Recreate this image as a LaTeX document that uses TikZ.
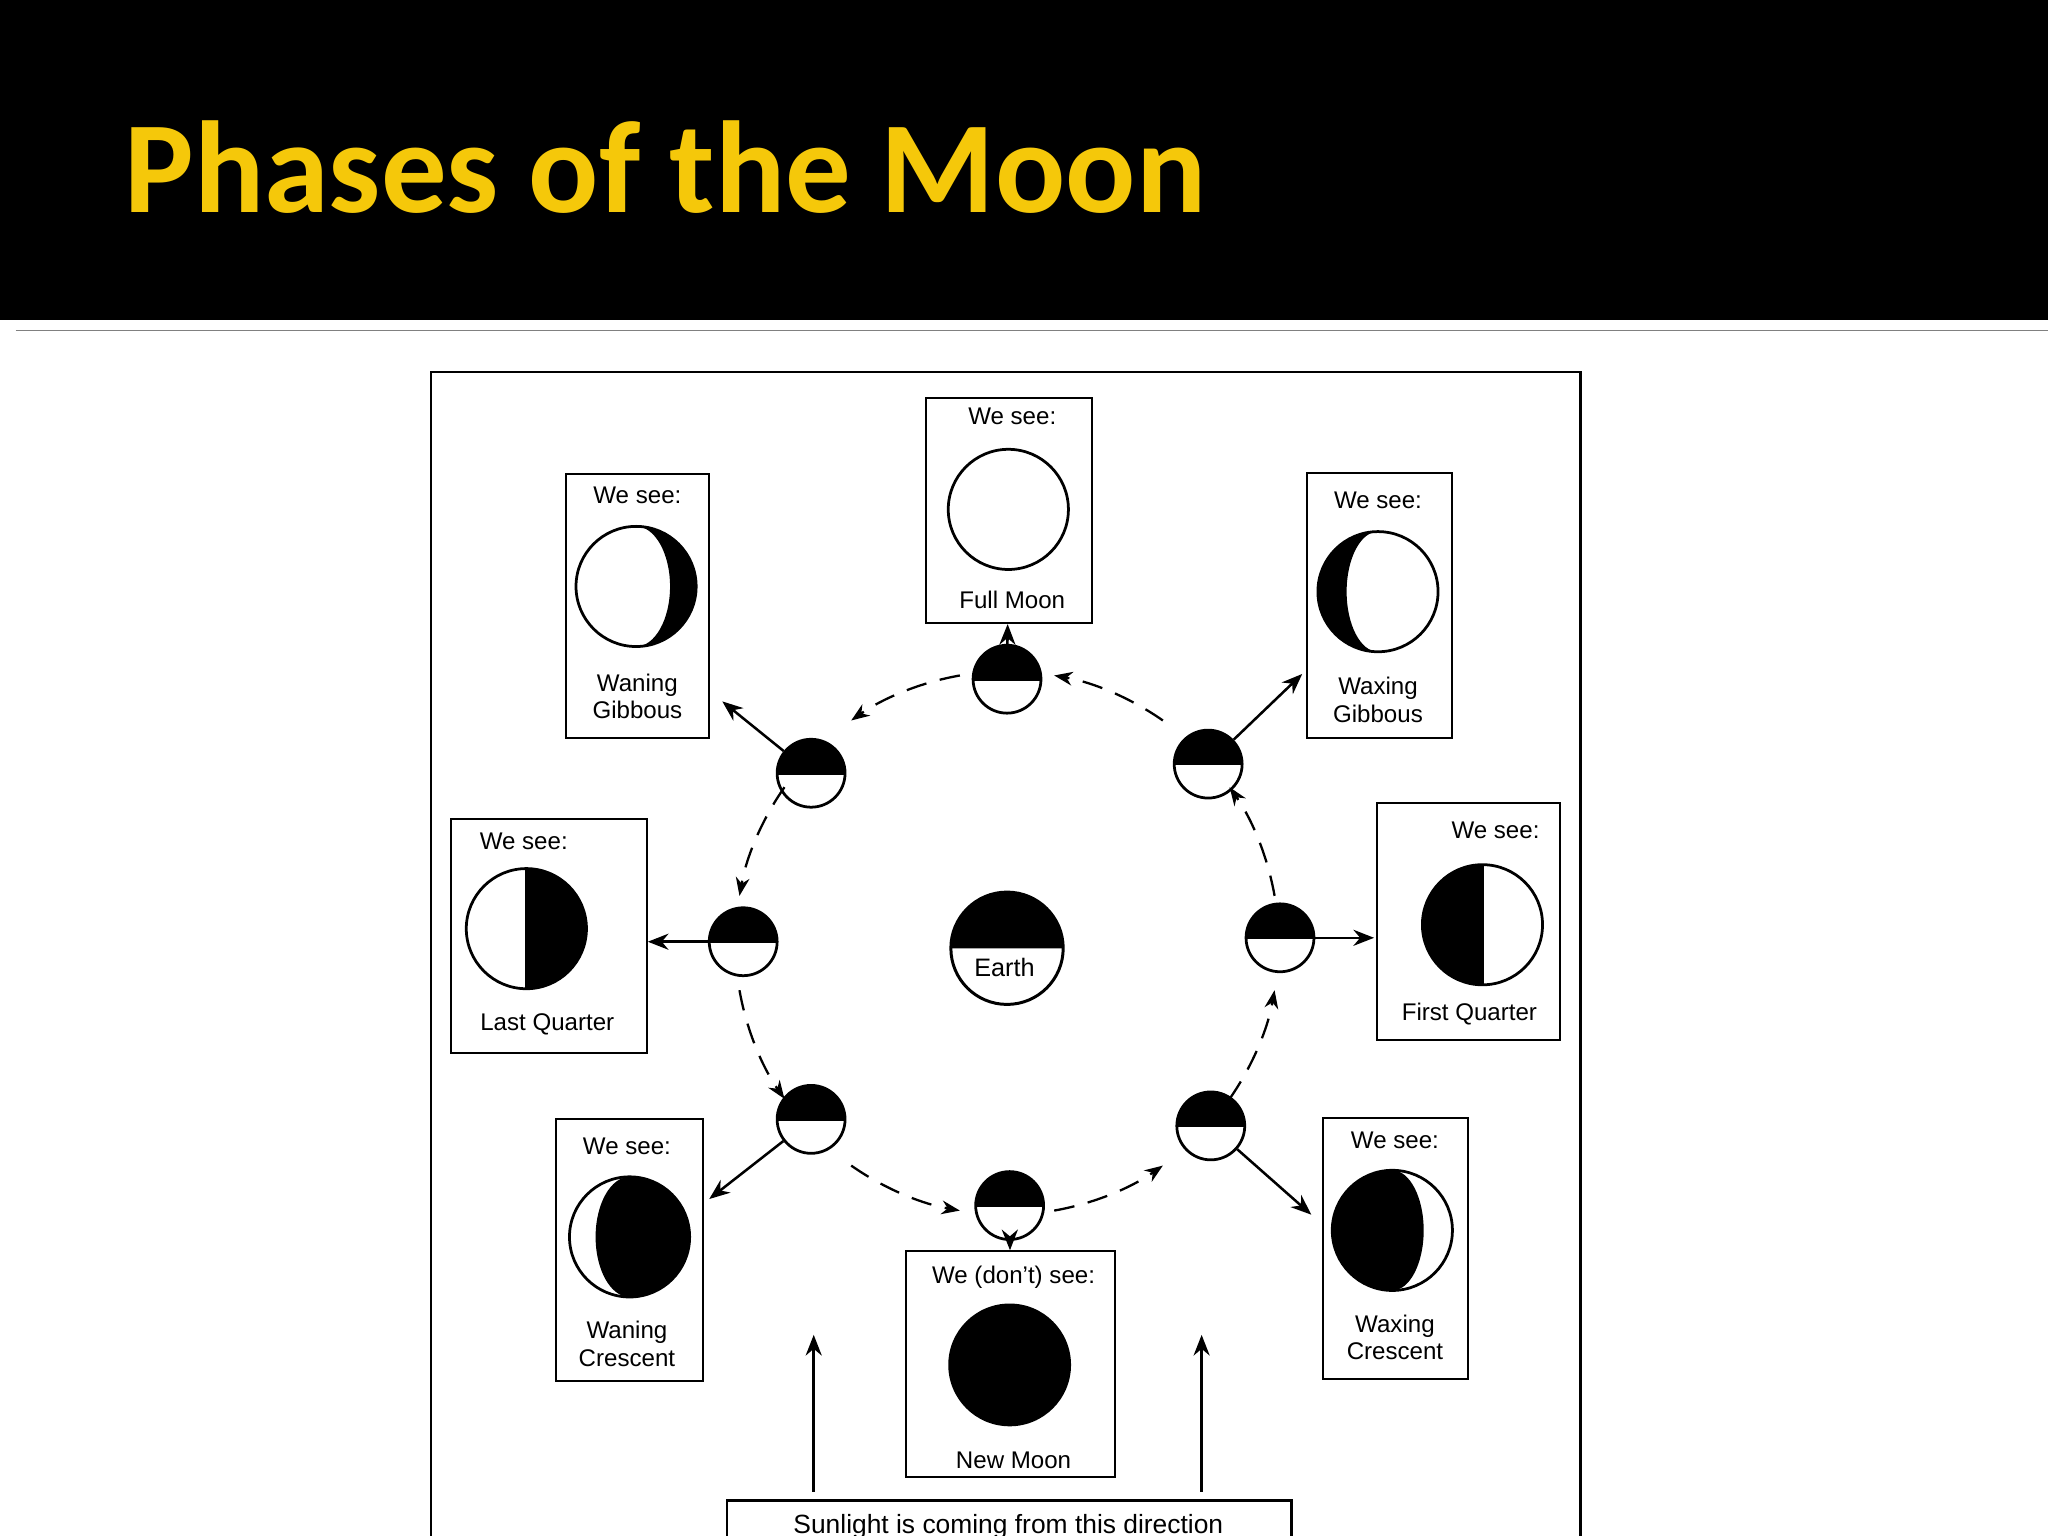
\documentclass[tikz,border=0pt]{standalone}
\usepackage{fontspec}
\setmainfont{Liberation Sans}
\newfontfamily\titlefont{Carlito}
\usetikzlibrary{arrows.meta}
\definecolor{titleyellow}{RGB}{245,200,10}
\begin{document}
\begin{tikzpicture}[x=0.02cm,y=-0.02cm,
  lbl/.style={font=\fontsize{10.5}{12}\selectfont,align=center,inner sep=0pt},
  panel/.style={draw,line width=0.9pt},
  phase/.style={draw,line width=1.2pt,fill=white},
  outarrow/.style={line width=1.1pt,-{Stealth[length=9pt,width=7pt]}},
  orbitarrow/.style={line width=1pt,dash pattern=on 9pt off 6pt,-{Stealth[length=8pt,width=6pt]}}]
\useasboundingbox (0,0) rectangle (1568,1176);
\fill[black] (0,0) rectangle (1568,245);
\draw[gray,line width=0.6pt] (12,253) -- (1568,253);
\node[anchor=base west,inner sep=0pt,text=titleyellow,font=\titlefont\bfseries\fontsize{57}{60}\selectfont] (title) at (95,163) {Phases of the Moon};
% frame
\draw[line width=1pt] (330,1176) -- (330,285) -- (1210,285) -- (1210,1176);
% sunlight
\node[panel,minimum width=432*0.02cm,minimum height=40*0.02cm,anchor=north west,inner sep=0pt] (sun) at (556,1148) {};
\node[lbl,anchor=base,font=\fontsize{11.5}{13}\selectfont] (suntext) at (772,1174) {Sunlight is coming from this direction};
\coordinate (s1) at (623,1142); \coordinate (s1e) at (623,1022);
\coordinate (s2) at (920,1142); \coordinate (s2e) at (920,1022);
\draw[outarrow] (s1) -- (s1e);
\draw[outarrow] (s2) -- (s2e);
% orbit
\coordinate (o) at (771,722);
\foreach \k in {0,...,7}{
  \pgfmathsetmacro\a{\k*45}
  \draw[orbitarrow] (o) ++(\a-10:208) arc[start angle=\a-10,end angle=\a-35,radius=208];
}
% orbit moons
\foreach \k/\x/\y in {0/980/718,1/927/862,2/773/923,3/621/857,4/569/721,5/621/592,6/771/520,7/925/585}{
  \node[circle,draw,line width=1.2pt,minimum size=52*0.02cm,inner sep=0pt] (m\k) at (\x,\y) {};
  \fill (\x-26,\y) arc[start angle=180,end angle=360,radius=26] -- cycle;
  \draw[line width=1.2pt] (\x-26,\y) -- (\x+26,\y);
}
% earth
\node[circle,draw,line width=1.3pt,minimum size=86*0.02cm,inner sep=0pt] (earth) at (771,726) {};
\fill (728,726) arc[start angle=180,end angle=360,radius=43] -- cycle;
\node[lbl,font=\fontsize{11}{13}\selectfont] (earthlbl) at (769,741) {Earth};
% panels
\node[panel,minimum width=127*0.02cm,minimum height=172*0.02cm,inner sep=0pt] (pFull) at (772.5,391) {};
\node[panel,minimum width=110*0.02cm,minimum height=202*0.02cm,inner sep=0pt] (pWnG) at (488,464) {};
\node[panel,minimum width=111*0.02cm,minimum height=203*0.02cm,inner sep=0pt] (pWxG) at (1056.5,463.5) {};
\node[panel,minimum width=140*0.02cm,minimum height=181*0.02cm,inner sep=0pt] (pFQ) at (1124,705.5) {};
\node[panel,minimum width=150*0.02cm,minimum height=179*0.02cm,inner sep=0pt] (pLQ) at (420,716.5) {};
\node[panel,minimum width=112*0.02cm,minimum height=200*0.02cm,inner sep=0pt] (pWnC) at (482,957) {};
\node[panel,minimum width=111*0.02cm,minimum height=200*0.02cm,inner sep=0pt] (pWxC) at (1068.5,956) {};
\node[panel,minimum width=160*0.02cm,minimum height=173*0.02cm,inner sep=0pt] (pNew) at (774,1044.5) {};
% labels
\node[lbl] (t1) at (775,319) {We see:};
\node[lbl] (t1b) at (775,459) {Full Moon};
\node[lbl] (t2) at (488,379) {We see:};
\node[lbl] (t2b) at (488,533) {Waning\\Gibbous};
\node[lbl] (t3) at (1055,383) {We see:};
\node[lbl] (t3b) at (1055,536) {Waxing\\Gibbous};
\node[lbl] (t4) at (1145,636) {We see:};
\node[lbl] (t4b) at (1125,776) {First Quarter};
\node[lbl] (t5) at (401,644) {We see:};
\node[lbl] (t5b) at (419,784) {Last Quarter};
\node[lbl] (t6) at (480,878) {We see:};
\node[lbl] (t6b) at (480,1029) {Waning\\Crescent};
\node[lbl] (t7) at (1068,873) {We see:};
\node[lbl] (t7b) at (1068,1024) {Waxing\\Crescent};
\node[lbl] (t8) at (776,978) {We (don't) see:};
\node[lbl] (t8b) at (776,1118) {New Moon};
% phase images
\def\r{46}
\draw[phase] (772,390) circle[radius=\r];
\draw[phase] (487,449) circle[radius=\r];
\fill (487,449-\r) arc[start angle=-90,end angle=90,radius=\r] arc[start angle=90,end angle=-90,x radius=26,y radius=\r] -- cycle;
\draw[phase] (1055,453) circle[radius=\r];
\fill (1055,453-\r) arc[start angle=-90,end angle=-270,radius=\r] arc[start angle=-270,end angle=-90,x radius=24,y radius=\r] -- cycle;
\draw[phase] (1135,708) circle[radius=\r];
\fill (1135,708-\r) arc[start angle=-90,end angle=-270,radius=\r] -- cycle;
\draw[line width=1.2pt] (1135,708-\r) -- (1135,708+\r);
\draw[phase] (403,711) circle[radius=\r];
\fill (403,711-\r) arc[start angle=-90,end angle=90,radius=\r] -- cycle;
\draw[line width=1.2pt] (403,711-\r) -- (403,711+\r);
\draw[phase] (482,947) circle[radius=\r];
\fill (482,947-\r) arc[start angle=-90,end angle=90,radius=\r] arc[start angle=90,end angle=270,x radius=26,y radius=\r] -- cycle;
\draw[phase] (1066,942) circle[radius=\r];
\fill (1066,942-\r) arc[start angle=-90,end angle=-270,radius=\r] arc[start angle=-270,end angle=-450,x radius=24,y radius=\r] -- cycle;
\fill (773,1045) circle[radius=47];
% outward arrows
\coordinate (aWxG) at (997,516);
\coordinate (aWnG) at (553,537);
\coordinate (aWnC) at (543,918);
\coordinate (aWxC) at (1004,930);
\coordinate (aFQ) at (1052,718);
\coordinate (aLQ) at (496,721);
\draw[outarrow] (m6) -- (pFull);
\draw[outarrow] (m2) -- (pNew);
\draw[outarrow] (m0.east) -- (aFQ);
\draw[outarrow] (m4.west) -- (aLQ);
\draw[outarrow] (m7) -- (aWxG);
\draw[outarrow] (m5) -- (aWnG);
\draw[outarrow] (m3) -- (aWnC);
\draw[outarrow] (m1) -- (aWxC);
\end{tikzpicture}
\end{document}
